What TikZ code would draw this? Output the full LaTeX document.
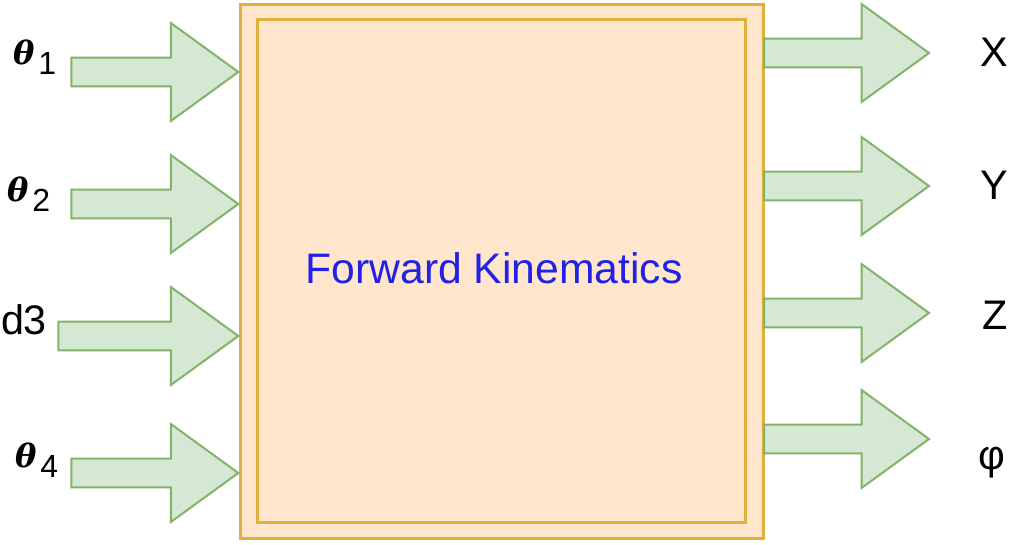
\documentclass[tikz,border=0pt]{standalone}
\usepackage{amsmath}
\usepackage{amssymb}
\usepackage{fontspec}
\setmainfont{Liberation Sans}
\newfontfamily\thetafont{DejaVu Serif}
\usetikzlibrary{shapes.arrows}
\definecolor{peach}{RGB}{255,230,204}
\definecolor{gold}{RGB}{224,176,60}
\definecolor{leafgreen}{RGB}{130,179,102}
\definecolor{mintfill}{RGB}{213,232,212}
\definecolor{kinblue}{RGB}{34,34,228}
\newcommand\jointangle[1]{{\thetafont\bfseries\itshape\fontsize{24}{28}\selectfont θ}\kern2.5pt\raisebox{-8pt}{\fontsize{24}{28}\selectfont #1}}

\begin{document}
\begin{tikzpicture}[x=0.75pt,y=-0.75pt,
    lbl/.style={inner sep=0pt, font=\fontsize{31}{36}\selectfont},
    blockarr/.style={single arrow, draw=leafgreen, fill=mintfill, line width=1.5pt,
                     inner xsep=0pt, inner ysep=10pt, single arrow head extend=26pt,
                     single arrow tip angle=72},
    inarrow/.style={blockarr, anchor=tip, minimum height=125.25pt},
    outarrow/.style={blockarr, anchor=tail, minimum height=123.75pt},
    fkouter/.style={draw=gold, fill=peach, line width=2.25pt, outer sep=0pt,
                    minimum width=392.25pt, minimum height=399.75pt},
    fkinner/.style={draw=gold, line width=2.25pt,
                    minimum width=366pt, minimum height=377.25pt},
    kintext/.style={text=kinblue, font=\fontsize{32}{36}\selectfont, xshift=-5.6pt, yshift=2.6pt}]
  \useasboundingbox (0,0) rectangle (1015,545);

  \node[fkouter] (fk) at (501.5,271.5) {};
  \node[fkinner, label={[kintext]center:Forward Kinematics}] (fkin) at (fk.center) {};

  \node[inarrow] (in1) at (240,72)  {};
  \node[inarrow] (in2) at (240,204) {};
  \node[inarrow, minimum height=135pt] (in3) at (240,336) {};
  \node[inarrow] (in4) at (240,473) {};

  \node[outarrow] (out1) at (763,53)  {};
  \node[outarrow] (out2) at (763,186) {};
  \node[outarrow] (out3) at (763,313) {};
  \node[outarrow] (out4) at (763,439) {};

  \node[lbl] (th1) at (35,57)  {\jointangle{1}};
  \node[lbl] (th2) at (29,194) {\jointangle{2}};
  \node[lbl] (d3)  at (24,320) {d3};
  \node[lbl] (th4) at (37,460) {\jointangle{4}};

  \node[lbl] (x)   at (994,52)  {X};
  \node[lbl] (y)   at (994,185) {Y};
  \node[lbl] (z)   at (995,315) {Z};
  \node[lbl] (phi) at (992,463) {φ};
\end{tikzpicture}
\end{document}
